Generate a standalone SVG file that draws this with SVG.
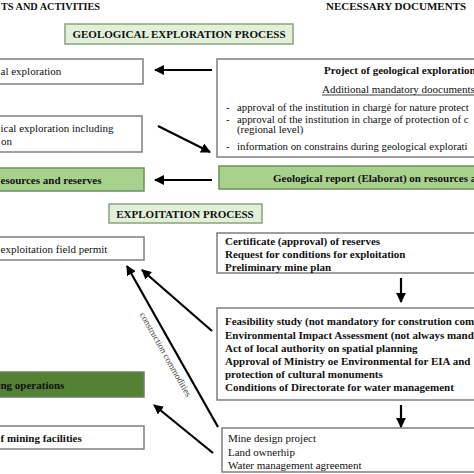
<svg xmlns="http://www.w3.org/2000/svg" width="474" height="474" viewBox="0 0 474 474">
<style>
text{font-family:"Liberation Serif","Times New Roman",serif;font-size:11px;fill:#111}
.b{font-weight:bold}
.box{fill:#fff;stroke:#7f7f7f;stroke-width:1.5}
.lg{fill:#e2efd9;stroke:#8aa37a;stroke-width:1.5}
.mg{fill:#a9d18e;stroke:#6f8f5c;stroke-width:1.5}
.dg{fill:#548235;stroke:#6f7f66;stroke-width:1.5}
.ar{stroke:#000;stroke-width:2.2;fill:none;marker-end:url(#ah)}
.lbl{font-size:9.2px;fill:#444}
.sm{font-size:10.8px}
</style>
<defs>
<marker id="ah" viewBox="0 0 10 10" refX="9" refY="5" markerWidth="4.5" markerHeight="4.5" orient="auto" markerUnits="strokeWidth">
<path d="M0,0 L10,5 L0,10 z" fill="#000"/>
</marker>
</defs>
<rect width="474" height="474" fill="#fff"/>
<g id="headers">
<text class="b" x="1" y="10" textLength="99" lengthAdjust="spacingAndGlyphs">TS AND ACTIVITIES</text>
<text class="b" x="326" y="10">NECESSARY DOCUMENTS</text>
</g>
<g id="geo-title"><rect class="lg" x="65" y="24" width="228" height="20"/><text class="b" x="179" y="38" text-anchor="middle">GEOLOGICAL EXPLORATION PROCESS</text></g>
<g id="exp-title"><rect class="lg" x="109" y="204" width="153" height="19"/><text class="b" x="185" y="217.5" text-anchor="middle">EXPLOITATION PROCESS</text></g>
<g id="left1"><rect class="box" x="-5" y="59" width="148" height="25"/><text x="0.5" y="75">al exploration</text></g>
<g id="left2"><rect class="box" x="-5" y="116" width="147" height="36"/><text x="0.5" y="132">ical exploration including</text><text x="1" y="145">on</text></g>
<g id="left3"><rect class="mg" x="-5" y="168" width="149" height="23"/><text class="b" x="0.5" y="184">esources and reserves</text></g>
<g id="left4"><rect class="box" x="-5" y="237" width="149" height="23"/><text x="0.5" y="253">exploitation field permit</text></g>
<g id="left5"><rect class="dg" x="-5" y="372" width="149" height="25"/><text class="b" x="0.5" y="389">ng operations</text></g>
<g id="left6"><rect class="box" x="-5" y="426" width="149" height="23"/><text class="b" x="0.5" y="442">f mining facilities</text></g>
<g id="right1"><rect class="box" x="217" y="59" width="270" height="98"/>
<text class="b" x="324" y="74">Project of geological exploration</text>
<text x="322" y="93">Additional mandatory doocuments</text>
<line x1="322" y1="95" x2="474" y2="95" stroke="#111" stroke-width="0.8"/>
<text class="sm" x="226" y="111">-</text><text class="sm" x="237" y="111">approval of the institution in chargė for nature protect</text>
<text class="sm" x="226" y="122.5">-</text><text class="sm" x="237" y="122.5">approval of the institution in charge of protection of c</text>
<text class="sm" x="237" y="133">(regional level)</text>
<text class="sm" x="226" y="149.5">-</text><text class="sm" x="237" y="149.5">information on constrains during geological explorati</text>
</g>
<g id="right2"><rect class="mg" x="219" y="166" width="270" height="23"/><text class="b" x="273" y="182">Geological report (Elaborat) on resources a</text></g>
<g id="right3"><rect class="box" x="217" y="233" width="270" height="40"/>
<text class="b" x="225" y="245">Certificate (approval) of reserves</text>
<text class="b" x="225" y="258">Request for conditions for exploitation</text>
<text class="b" x="225" y="271">Preliminary mine plan</text></g>
<g id="right4"><rect class="box" x="217" y="308" width="270" height="92"/>
<text class="b" x="225" y="325">Feasibility study (not mandatory for constrution com</text>
<text class="b" x="225" y="338.5">Environmental Impact Assessment (not always mand</text>
<text class="b" x="225" y="352">Act of local authority on spatial planning</text>
<text class="b" x="225" y="365">Approval of Ministry oe Environmental for EIA and</text>
<text class="b" x="225" y="377.5">protection of cultural monuments</text>
<text class="b" x="225" y="391">Conditions of Directorate for water management</text></g>
<g id="right5"><rect class="box" x="222" y="428" width="270" height="44"/>
<text x="228" y="442">Mine design project</text>
<text x="228" y="456">Land ownerhip</text>
<text x="228" y="469">Water management agreement</text></g>
<g id="connectors">
<line class="ar" x1="212" y1="70" x2="155" y2="70"/>
<line class="ar" x1="158" y1="126" x2="210" y2="152"/>
<line class="ar" x1="212" y1="180" x2="155" y2="180"/>
<line class="ar" x1="401" y1="278" x2="401" y2="302"/>
<line class="ar" x1="212" y1="331" x2="142" y2="270"/>
<line class="ar" x1="218" y1="427" x2="127" y2="266"/>
<line class="ar" x1="401" y1="405" x2="401" y2="427"/>
<line class="ar" x1="213" y1="453" x2="154" y2="405"/>
<text class="lbl" x="0" y="0" text-anchor="middle" transform="translate(163,356) rotate(60.5)">construction commodities</text>
</g>
</svg>
